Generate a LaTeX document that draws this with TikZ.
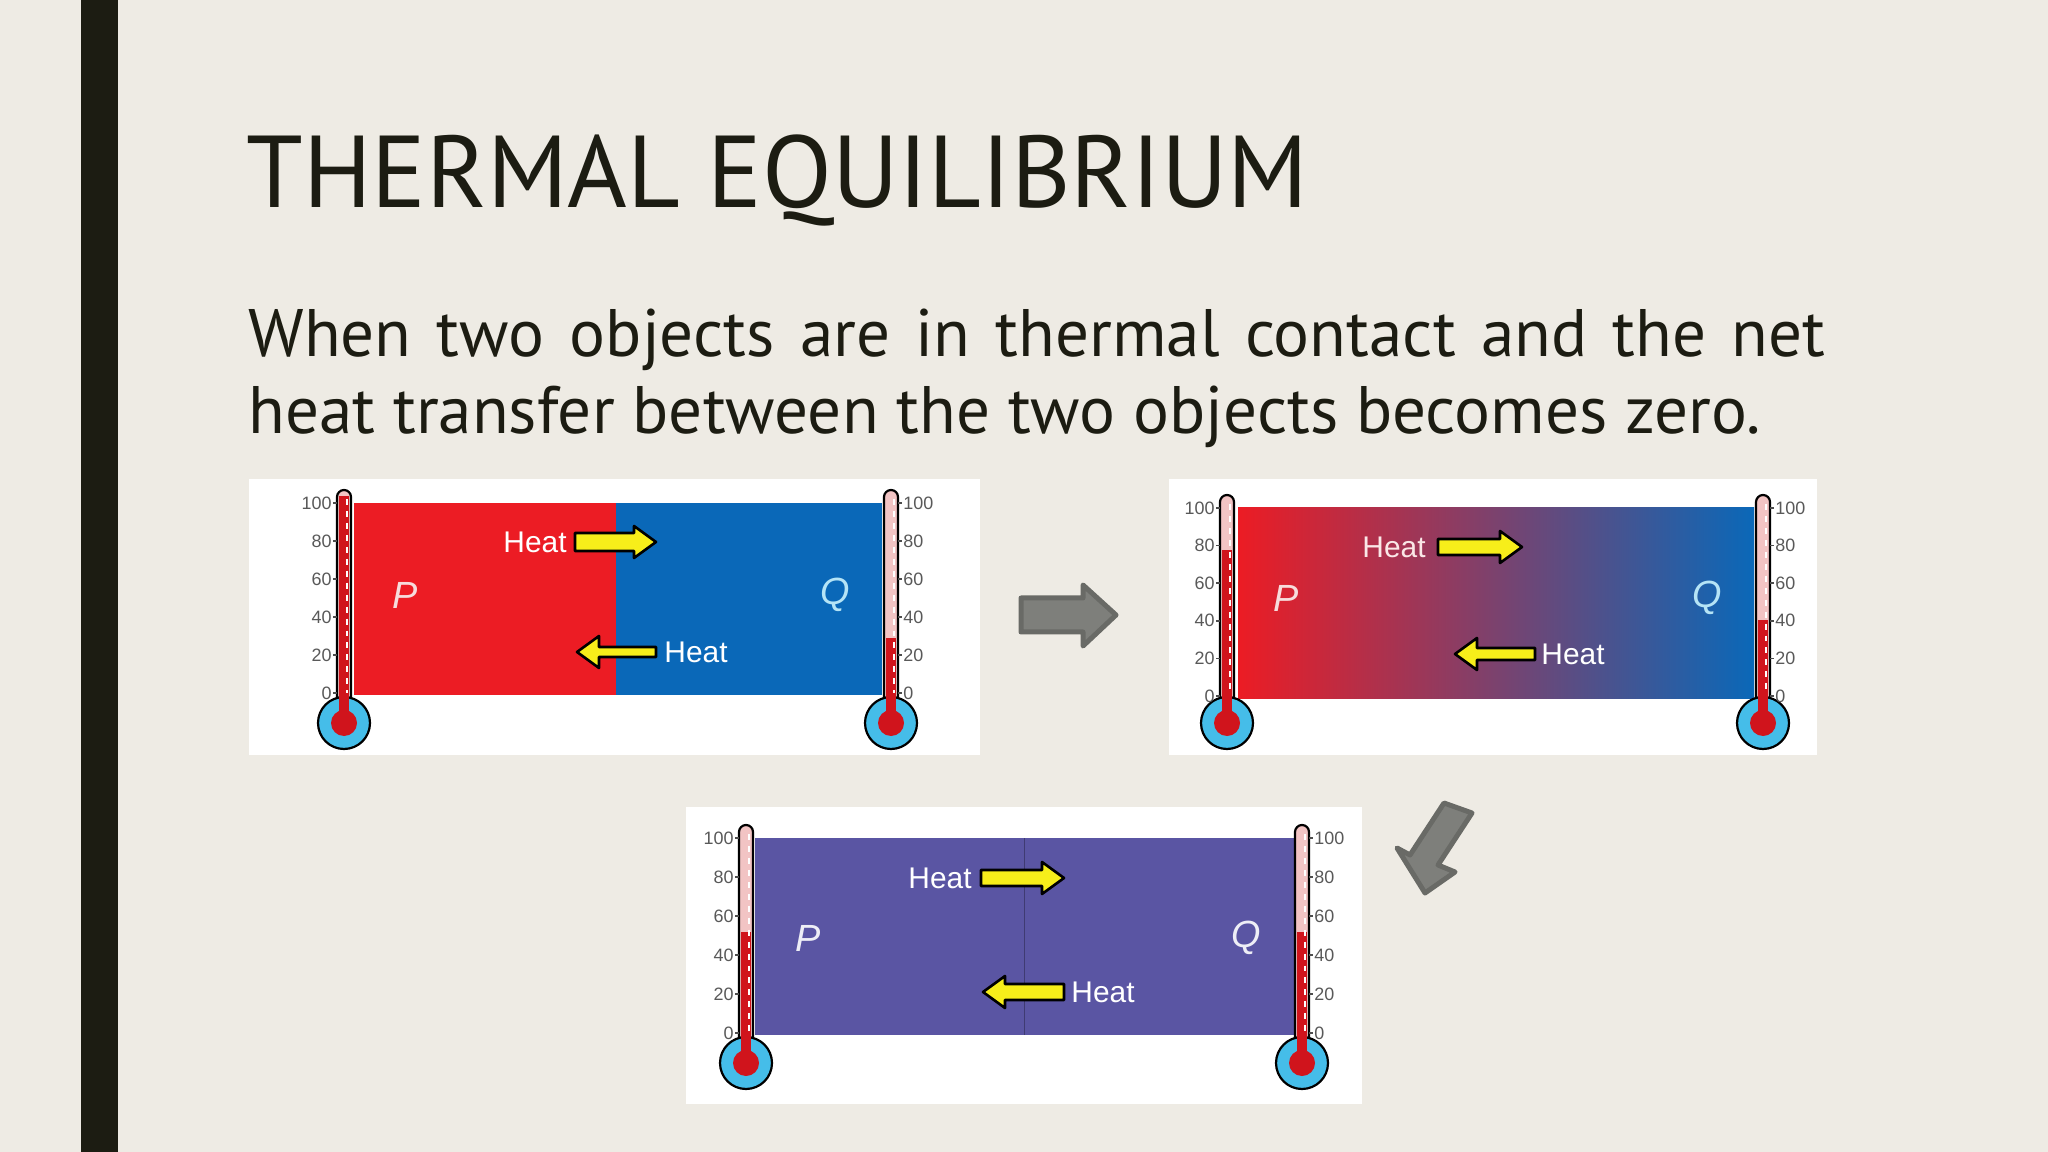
\documentclass[tikz,border=0pt]{standalone}
\usepackage{fontspec}
\setmainfont{PT Sans}
\newfontfamily\lab{Liberation Sans}
\definecolor{bg}{HTML}{EEEBE4}
\definecolor{ink}{HTML}{1C1C12}
\definecolor{hotred}{HTML}{EC1C24}
\definecolor{coldblue}{HTML}{0A68B8}
\definecolor{eqpurple}{HTML}{5A55A3}
\definecolor{midpurple}{HTML}{7A4E92}
\definecolor{tubepink}{HTML}{F2C4C4}
\definecolor{thermred}{HTML}{D0141C}
\definecolor{bulbcyan}{HTML}{45BDE9}
\definecolor{heatyellow}{HTML}{F7EE1A}
\definecolor{grayarrow}{HTML}{7E7F7B}
\definecolor{grayedge}{HTML}{696A66}
\tikzset{
 panelbg/.style={fill=white,draw=none},
 ticklab/.style={font=\lab\fontsize{9}{9}\selectfont,text=black!65,inner sep=0pt},
 heatlab/.style={font=\lab\fontsize{15}{15}\selectfont,text=white,inner sep=0pt},
 pqlab/.style={font=\lab\itshape\fontsize{19}{19}\selectfont,inner sep=0pt},
 heatarrow/.style={fill=heatyellow,draw=black,line width=1.3bp,line join=round},
 grayarr/.style={fill=grayarrow,draw=grayedge,line width=2.5bp,line join=round},
}
\newcommand\thermo[7]{%
 \fill[thermred] (#1,#4) circle[radius=3bp];
 \draw[fill=tubepink,line width=1.1bp] (#1-7,#4) -- (#1-7,#2-6) arc[start angle=180,end angle=0,radius=3.5bp] -- (#1+7,#4);
 \fill[thermred] (#1-5,#5) rectangle (#1+5,#4);
 \draw[white,dashed,line width=0.6bp] (#1+3,#2-4) -- (#1+3,#4-30);
 \draw[fill=bulbcyan,line width=1.1bp] (#1,#4) circle[radius=13bp];
 \fill[thermred] (#1-5,#4) rectangle (#1+5,#4-30);
 \fill[thermred] (#1,#4) circle[radius=6.5bp];
 \foreach \v in {0,20,40,60,80,100}{%
   \pgfmathsetmacro\yy{#3+(#2-#3)*(\v/100)}
   \draw[black!70,line width=0.8bp] (#1+#6*7,\yy) -- (#1+#6*11,\yy);
   \node[ticklab,anchor=#7] at (#1+#6*12,\yy) {\v};}
}
\newcommand\heatarr[4]{%
 \pgfmathsetmacro\hb{#2-22*sign(#2-#1)}
 \draw[heatarrow] (#1,#3-#4) -- (\hb,#3-#4) -- (\hb,#3-16) -- (#2,#3) -- (\hb,#3+16) -- (\hb,#3+#4) -- (#1,#3+#4) -- cycle;}
\begin{document}
\begin{tikzpicture}[x=0.5bp,y=-0.5bp]
\fill[bg] (0,0) rectangle (2048,1152);
\useasboundingbox (0,0) rectangle (2048,1152);
\fill[ink] (81,0) rectangle (118,1152);
\node[anchor=base west,inner sep=0pt,text=ink] (title) at (246,208)
 {\resizebox{531bp}{!}{\fontsize{50}{60}\selectfont THERMAL EQUILIBRIUM}};
\node[anchor=base west,inner sep=0pt,text=ink,font=\fontsize{33.7}{40}\selectfont] (line1) at (248,357)
 {\makebox[788.5bp][s]{When two objects are in thermal contact and the net}};
\node[anchor=base west,inner sep=0pt,text=ink,font=\fontsize{33.7}{40}\selectfont] (line2) at (248,434)
 {heat transfer between the two objects becomes zero.};
% panel 1
\fill[white] (249,479) rectangle (980,755);
\fill[hotred] (354,503) rectangle (616,695);
\fill[coldblue] (616,503) rectangle (882,695);
\thermo{344}{503}{693}{723}{496}{-1}{east}
\thermo{891}{503}{693}{723}{638}{1}{west}
\node[pqlab,text=tubepink!60] (p1) at (405,595) {P};
\node[pqlab,text=bulbcyan!40] (q1) at (835,595) {Q};
\node[heatlab] (h1a) at (535,542) {Heat};
\node[heatlab] (h1b) at (696,652) {Heat};
\heatarr{575}{656}{542}{9}
\heatarr{656}{577}{652}{5}
% arrow right
\draw[grayarr] (1021,598) -- (1083,598) -- (1083,585) -- (1116,615) -- (1083,646) -- (1083,632) -- (1021,632) -- cycle;
% panel 2
\fill[white] (1169,479) rectangle (1817,755);
\shade[left color=hotred,middle color=midpurple!80!blue,right color=coldblue] (1238,508) rectangle (1754,698);
\thermo{1227}{508}{696}{723}{550}{-1}{east}
\thermo{1763}{508}{696}{723}{620}{1}{west}
\node[pqlab,text=tubepink!60] (p2) at (1286,598) {P};
\node[pqlab,text=bulbcyan!40] (q2) at (1707,598) {Q};
\node[heatlab,text=tubepink!40] (h2a) at (1394,547) {Heat};
\node[heatlab] (h2b) at (1573,654) {Heat};
\heatarr{1438}{1522}{547}{8}
\heatarr{1535}{1455}{654}{6}
% arrow down-left
\draw[grayarr] (1444,803) -- (1472,813) -- (1438,865) -- (1455,872) -- (1425,893) -- (1397,848) -- (1410,855) -- cycle;
% panel 3
\fill[white] (686,807) rectangle (1362,1104);
\fill[eqpurple] (755,838) rectangle (1294,1035);
\draw[eqpurple!70!black,line width=0.5bp] (1024,838) -- (1024,1035);
\thermo{746}{838}{1033}{1063}{932}{-1}{east}
\thermo{1302}{838}{1033}{1063}{932}{1}{west}
\node[pqlab,text=white!90!eqpurple] (p3) at (808,938) {P};
\node[pqlab,text=white!90!eqpurple] (q3) at (1246,938) {Q};
\node[heatlab] (h3a) at (940,878) {Heat};
\node[heatlab] (h3b) at (1103,992) {Heat};
\heatarr{981}{1064}{878}{8}
\heatarr{1064}{983}{992}{8}
\end{tikzpicture}
\end{document}
